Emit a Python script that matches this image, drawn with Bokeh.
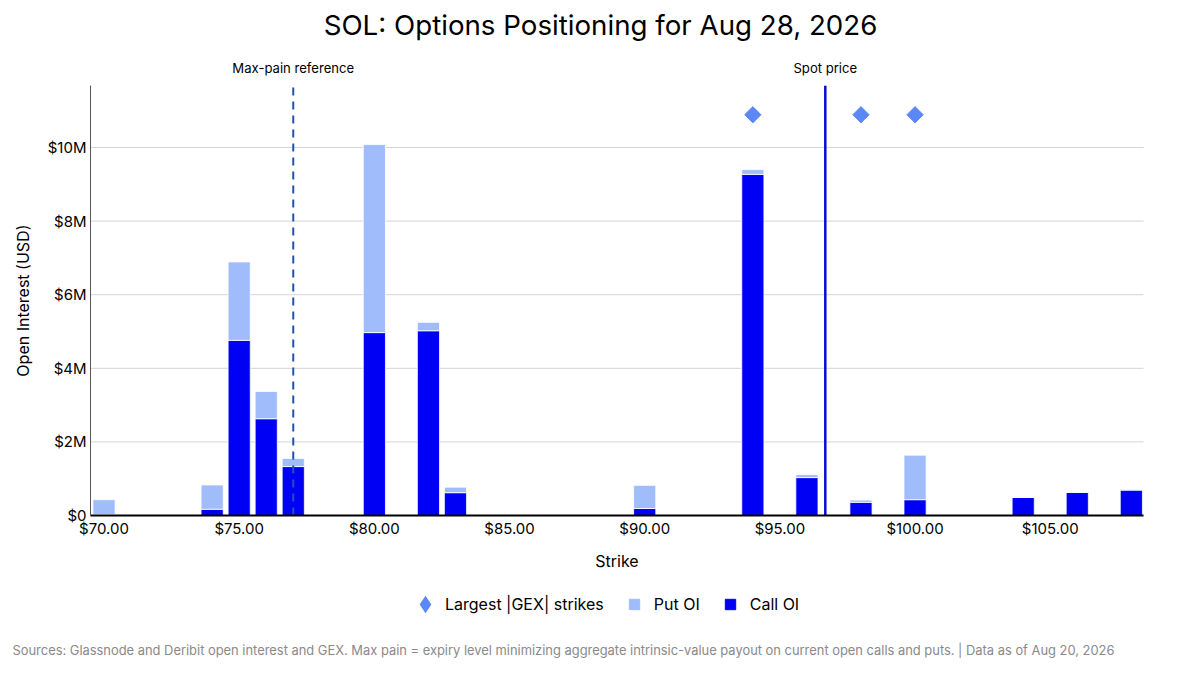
import math
from bokeh.plotting import figure
from bokeh.models import (Range1d, FixedTicker, NumeralTickFormatter, CustomJSTickFormatter,
                          Label, Legend, LegendItem, ColumnDataSource)
from bokeh.embed import file_html
from bokeh.resources import INLINE

# ---- data ----
strikes = [70, 74, 75, 76, 77, 80, 82, 83, 90, 94, 96, 98, 100, 104, 106, 108]
call_oi = [0.03e6, 0.17e6, 4.76e6, 2.63e6, 1.33e6, 4.97e6, 5.02e6, 0.62e6, 0.19e6,
           9.27e6, 1.03e6, 0.36e6, 0.43e6, 0.49e6, 0.63e6, 0.69e6]
put_oi = [0.40e6, 0.66e6, 2.13e6, 0.74e6, 0.22e6, 5.11e6, 0.23e6, 0.15e6, 0.63e6,
          0.13e6, 0.08e6, 0.06e6, 1.21e6, 0.0, 0.0, 0.02e6]
gex_strikes = [94, 98, 100]
gex_level = [10.89e6, 10.89e6, 10.89e6]
max_pain = 77
spot_price = 96.68
x_ticks = [70, 75, 80, 85, 90, 95, 100, 105]
y_ticks = [0, 2e6, 4e6, 6e6, 8e6, 10e6]
oi_axis_max = 11.68e6
strike_min, strike_max = 69.5, 108.45

FONT = "Inter"
CALL_C = "#0000f5"
PUT_C = "#a0bcfb"
GEX_C = "#5b88f6"

# ---- geometry (canvas pixels); the frame covers the whole canvas ----
W, H = 1184, 665
PLOT_L, PLOT_R = 90, 1143          # canvas x of strike_min / strike_max
ZERO_Y = 515                       # canvas y of OI = 0
PX_PER_USD = 36.8 / 1e6
px_per_strike = (PLOT_R - PLOT_L) / (strike_max - strike_min)
x_lo = strike_min - PLOT_L / px_per_strike
x_hi = strike_min + (W - PLOT_L) / px_per_strike
y_lo = -(H - ZERO_Y) / PX_PER_USD
y_hi = ZERO_Y / PX_PER_USD


def sy(canvas_y):
    """screen-unit y (from frame bottom) for a canvas y measured from the top"""
    return H - canvas_y


src = ColumnDataSource(dict(strike=strikes, call=call_oi, put=put_oi,
                            total=[c + p for c, p in zip(call_oi, put_oi)]))

p = figure(width=W, height=H, output_backend="svg", toolbar_location=None,
           x_range=Range1d(x_lo, x_hi), y_range=Range1d(y_lo, y_hi),
           min_border_left=0, min_border_right=0, min_border_top=0, min_border_bottom=0)
p.title.visible = False
p.outline_line_color = None
p.background_fill_color = "white"
p.xgrid.visible = False
p.ygrid.visible = False

# horizontal grid lines, limited to the plotting area
p.segment(x0=strike_min, x1=strike_max, y0=y_ticks, y1=y_ticks,
          line_color="#d4d4d4", line_width=1, level="underlay")

call_r = p.vbar(x="strike", top="call", bottom=0, width=0.82, source=src,
                fill_color=CALL_C, line_color="white", line_width=0.8)
put_r = p.vbar(x="strike", top="total", bottom="call", width=0.82, source=src,
               fill_color=PUT_C, line_color="white", line_width=0.8)
gex_r = p.scatter(x=gex_strikes, y=gex_level, marker="square", angle=math.pi / 4,
                  size=11.5, fill_color=GEX_C, line_color=GEX_C)

p.segment(x0=[max_pain], y0=[0], x1=[max_pain], y1=[oi_axis_max],
          line_color="#1f52b3", line_width=2, line_dash="8 6")
p.segment(x0=[spot_price], y0=[0], x1=[spot_price], y1=[oi_axis_max],
          line_color="#0a0ad2", line_width=2.5)

# legend proxies (hidden renderers, used only for the legend swatches)
gex_proxy = p.scatter(x=gex_strikes, y=gex_level, marker="diamond", size=10,
                      fill_color=GEX_C, line_color=GEX_C, line_width=4, line_join="miter",
                      visible=False)
put_proxy = p.scatter(x=strikes, y=put_oi, marker="square", size=10,
                      fill_color=PUT_C, line_color=PUT_C, visible=False)
call_proxy = p.scatter(x=strikes, y=call_oi, marker="square", size=10,
                       fill_color=CALL_C, line_color=CALL_C, visible=False)

# axes (fixed inside the frame)
xa = p.xaxis[0]
xa.fixed_location = 0
xa.bounds = (strike_min, strike_max)
xa.ticker = FixedTicker(ticks=x_ticks)
xa.formatter = NumeralTickFormatter(format="$0.00")
xa.axis_line_color = "black"
xa.axis_line_width = 2
xa.major_tick_line_color = None
xa.minor_tick_line_color = None
xa.major_label_standoff = -3
xa.major_label_text_font = FONT
xa.major_label_text_font_size = "15px"
xa.major_label_text_color = "black"

ya = p.yaxis[0]
ya.fixed_location = strike_min
ya.bounds = (0, oi_axis_max)
ya.ticker = FixedTicker(ticks=y_ticks)
ya.formatter = CustomJSTickFormatter(code="return tick == 0 ? '$0' : '$' + (tick/1e6).toFixed(0) + 'M';")
ya.axis_line_color = "#555555"
ya.axis_line_width = 1
ya.major_tick_line_color = None
ya.minor_tick_line_color = None
ya.major_label_standoff = -2
ya.major_label_text_font = FONT
ya.major_label_text_font_size = "15px"
ya.major_label_text_color = "black"

# texts
p.add_layout(Label(x=600, y=sy(24), x_units="screen", y_units="screen",
                   text="SOL: Options Positioning for Aug 28, 2026", text_align="center",
                   text_baseline="middle", text_font=FONT, text_font_size="27.7px",
                   text_color="black"))
p.add_layout(Label(x=max_pain, y=sy(67), x_units="data", y_units="screen",
                   text="Max-pain reference", text_align="center", text_baseline="middle",
                   text_font=FONT, text_font_size="13.1px", text_color="black"))
p.add_layout(Label(x=spot_price, y=sy(67), x_units="data", y_units="screen",
                   text="Spot price", text_align="center", text_baseline="middle",
                   text_font=FONT, text_font_size="13.1px", text_color="black"))
p.add_layout(Label(x=(strike_min + strike_max) / 2, y=sy(560), x_units="data", y_units="screen",
                   text="Strike", text_align="center", text_baseline="middle",
                   text_font=FONT, text_font_size="16px", text_color="black"))
p.add_layout(Label(x=22, y=oi_axis_max / 2, x_units="screen", y_units="data",
                   angle=math.pi / 2, text="Open Interest (USD)", text_align="center",
                   text_baseline="middle", text_font=FONT, text_font_size="16px",
                   text_color="black"))
p.add_layout(Label(x=12, y=sy(650), x_units="screen", y_units="screen",
                   text="Sources: Glassnode and Deribit open interest and GEX. Max pain = expiry level minimizing aggregate intrinsic-value payout on current open calls and puts. | Data as of Aug 20, 2026",
                   text_align="left", text_baseline="middle", text_font=FONT,
                   text_font_size="12.9px", text_color="#8a8a8a"))

legend = Legend(items=[LegendItem(label="Largest |GEX| strikes", renderers=[gex_proxy], index=0),
                       LegendItem(label="Put OI", renderers=[put_proxy], index=0),
                       LegendItem(label="Call OI", renderers=[call_proxy], index=0)],
                orientation="horizontal", location=(412, sy(617)),
                label_text_font=FONT, label_text_font_size="16px", label_text_color="black",
                glyph_width=26, glyph_height=26, spacing=17, label_standoff=7,
                border_line_color=None, background_fill_alpha=0, margin=0, padding=0,
                inactive_fill_alpha=0)
p.add_layout(legend)

open("out.html", "w").write(file_html(p, INLINE))
